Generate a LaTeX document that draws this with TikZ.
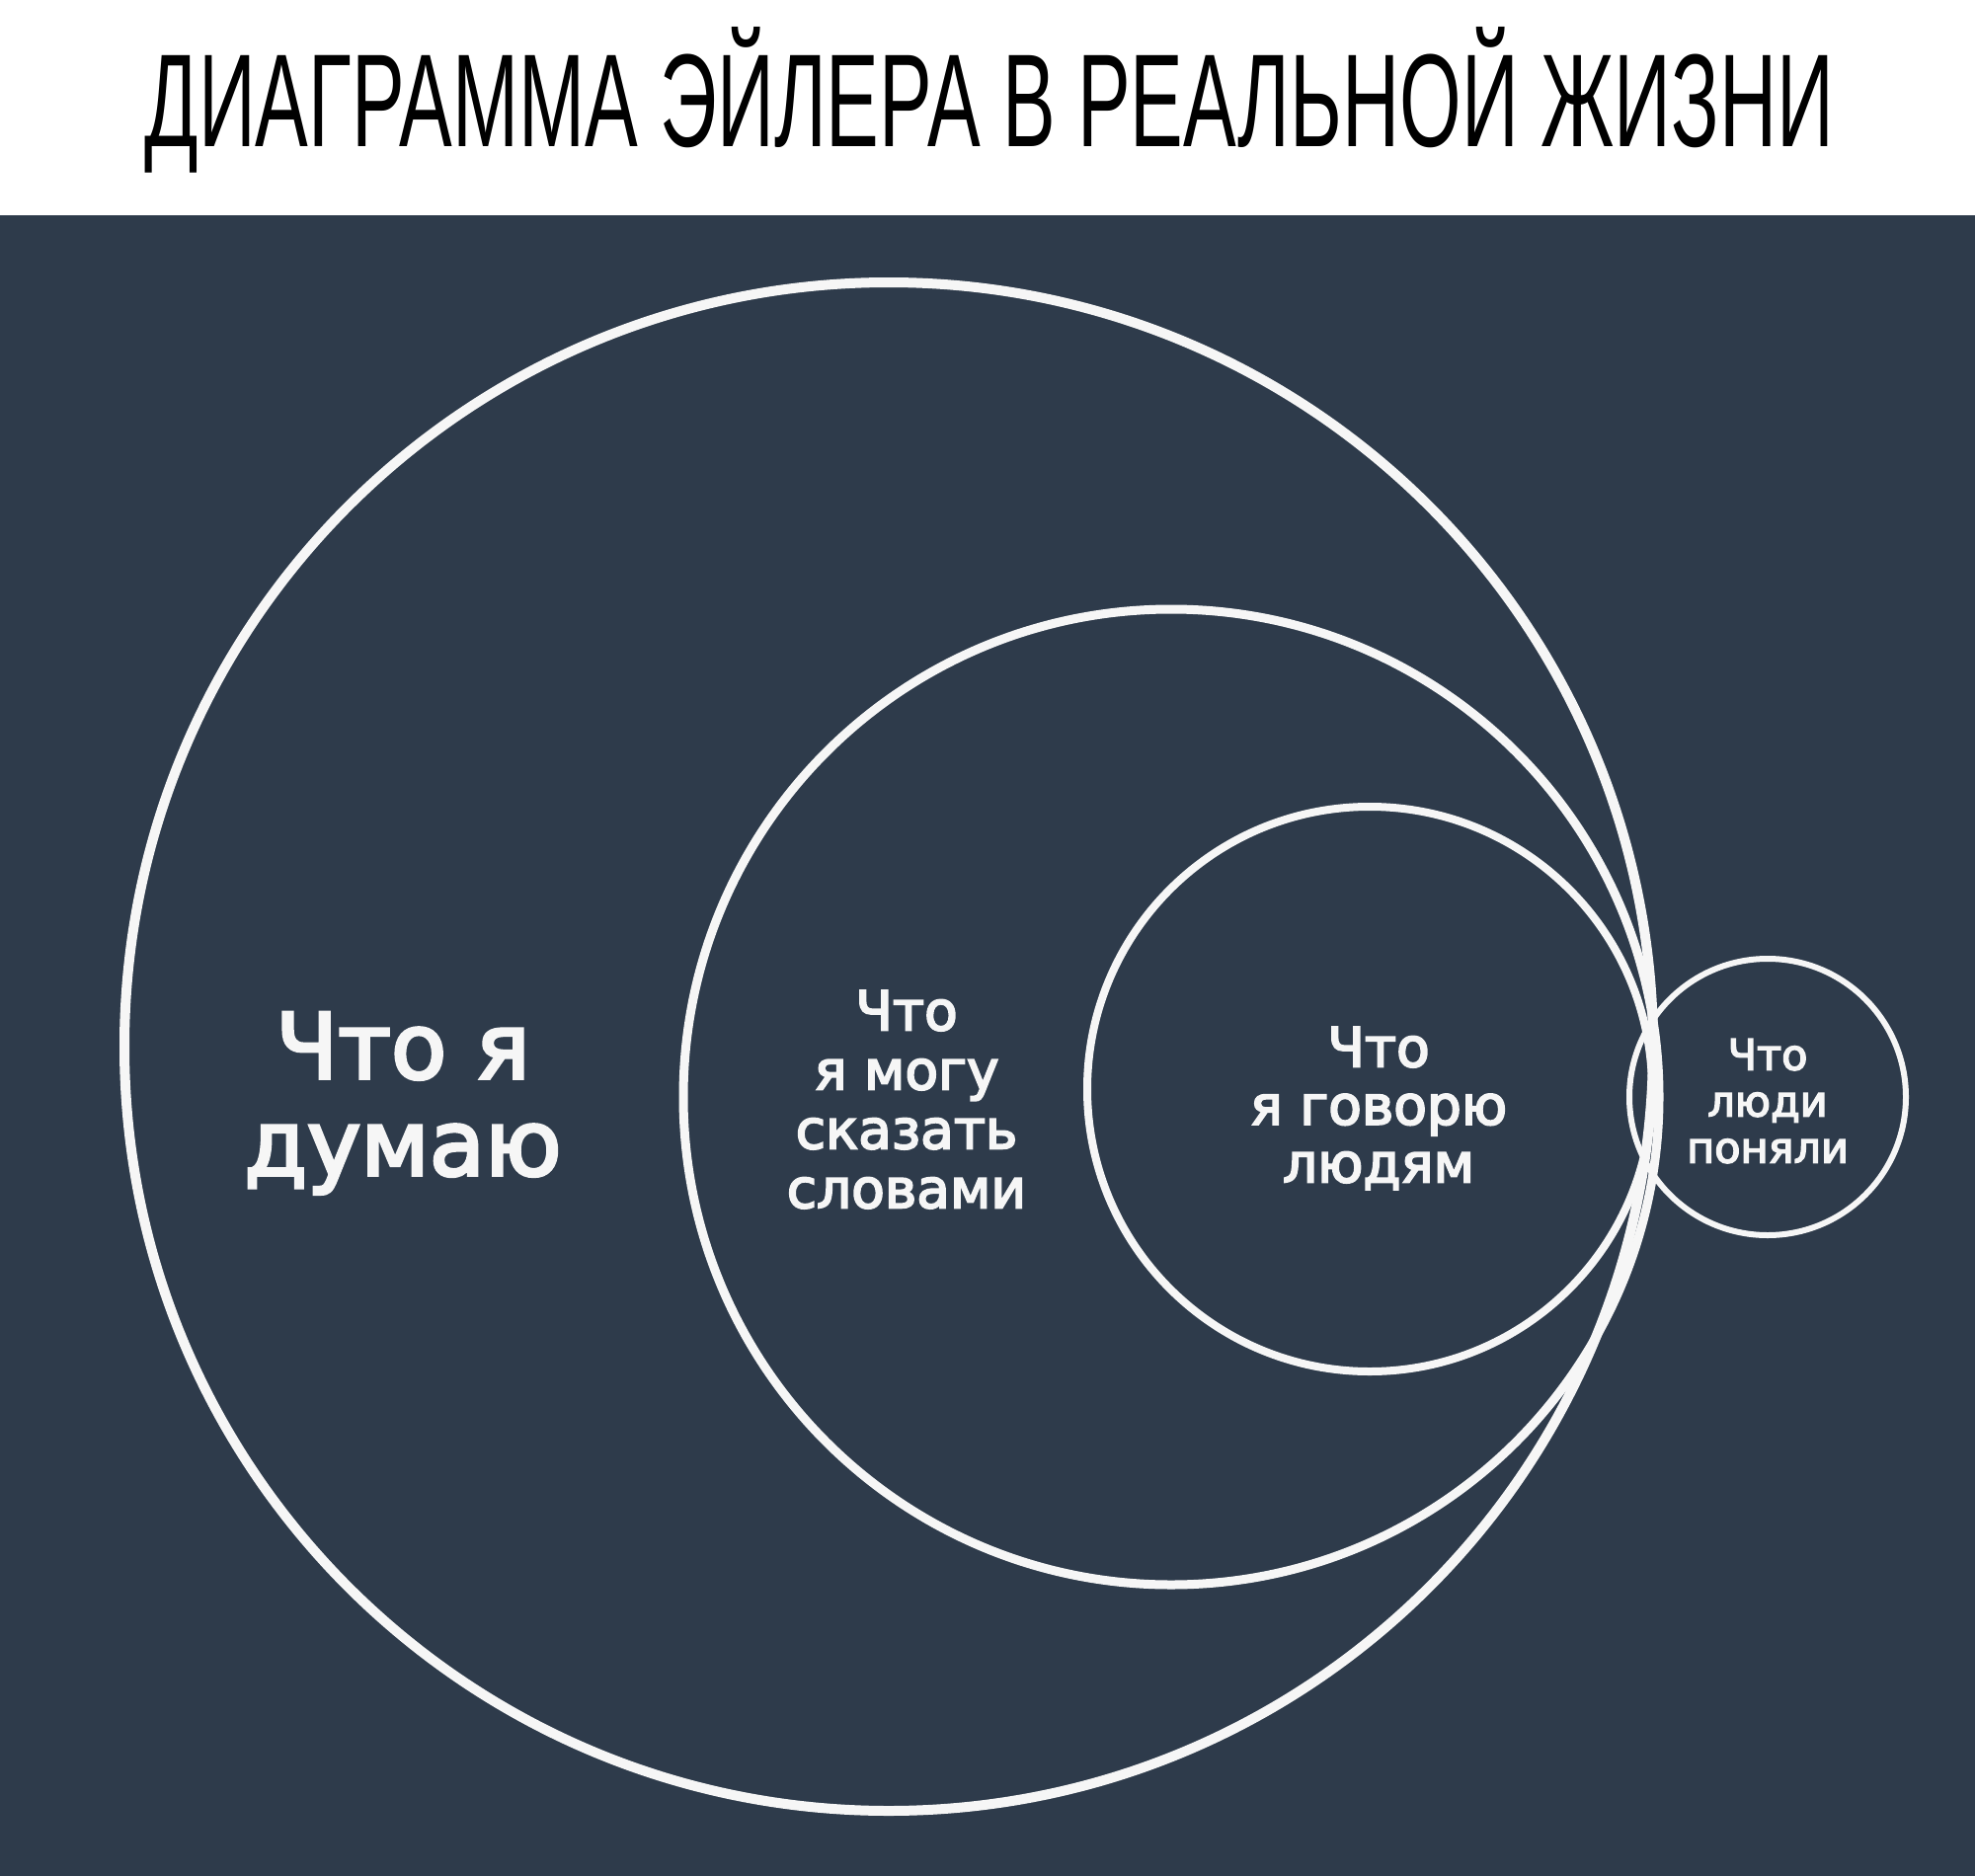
\documentclass[tikz,border=0pt]{standalone}
\usepackage{fontspec}
\usepackage{graphicx}
\setmainfont{DejaVu Sans}[FakeBold=3.5]
\newfontfamily\titulo{Liberation Sans}
\definecolor{F}{RGB}{46, 59, 75}
\definecolor{W}{RGB}{246, 246, 246}
\tikzset{
  circulo/.style={draw=W},
  texto/.style={text=W, align=center, anchor=north, inner sep=0pt}
}

\begin{document}
\begin{tikzpicture}[x=1pt,y=-1pt]
   	\useasboundingbox (0,0) rectangle (2000,1900);
   	\fill[white] (0,0) rectangle (2000,218);
   	\fill[F] (0,218) rectangle (2000,1900);

   	%Titulo arriba
   	\node[anchor=base, inner sep=0pt] (titulo) at (1002,149)
   	  {\resizebox{1711pt}{\height}{\titulo\fontsize{134}{134}\selectfont ДИАГРАММА ЭЙЛЕРА В РЕАЛЬНОЙ ЖИЗНИ}};

	%Circulo grande
   	\draw[circulo, line width=10pt] (900,1060) circle (774pt);
   	\node[texto, font=\fontsize{92}{98}\selectfont] (piensa) at (408,1025) {Что я\\думаю};

	%Circulo mediano
   	\draw[circulo, line width=9pt] (1186,1111) circle (494pt);
   	\node[texto, font=\fontsize{55}{60}\selectfont] (puede) at (918,1003) {Что\\я могу\\сказать\\словами};

	%Circulo pequeno
   	\draw[circulo, line width=8pt] (1387,1103) circle (286pt);
   	\node[texto, font=\fontsize{55}{58.5}\selectfont] (dice) at (1396,1040) {Что\\я говорю\\людям};

	%Circulo de afuera
   	\draw[circulo, line width=6pt] (1790,1111) circle (140pt);
   	\node[texto, font=\fontsize{43}{47}\selectfont] (entienden) at (1790,1052) {Что\\люди\\поняли};
\end{tikzpicture}
\end{document}
